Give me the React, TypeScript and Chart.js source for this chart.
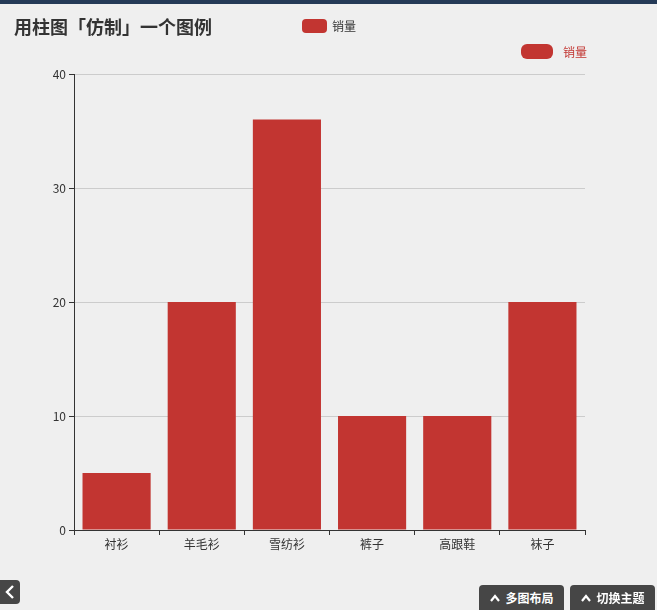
import { useEffect, useRef } from "react"
import { Chart, registerables, Plugin } from "chart.js"

Chart.register(...registerables)

// datos del gráfico
const categories = ["衬衫", "羊毛衫", "雪纺衫", "裤子", "高跟鞋", "袜子"]
const sales = [5, 20, 36, 10, 10, 20]
const seriesName = "销量"
const titleText = "用柱图「仿制」一个图例"
const yTicks = [0, 10, 20, 30, 40]

const RED = "#c23531"
const FONT = "'Microsoft YaHei', 'Noto Sans CJK SC', sans-serif"

// título y las dos leyendas dibujadas a mano
const decorPlugin: Plugin<"bar"> = {
  id: "decor",
  afterDraw(chart) {
    const ctx = chart.ctx
    ctx.save()
    ctx.textBaseline = "middle"
    ctx.textAlign = "left"

    ctx.fillStyle = "#333"
    ctx.font = `bold 18px ${FONT}`
    ctx.fillText(titleText, 14, 27)

    // leyenda normal
    ctx.fillStyle = RED
    ctx.beginPath()
    ctx.roundRect(302, 19, 25, 14, 4)
    ctx.fill()
    ctx.fillStyle = "#333"
    ctx.font = `12px ${FONT}`
    ctx.fillText(seriesName, 332, 26)

    // leyenda "falsa"
    ctx.fillStyle = RED
    ctx.beginPath()
    ctx.roundRect(521, 44, 32, 15, 6)
    ctx.fill()
    ctx.fillText(seriesName, 563, 52)

    ctx.restore()
  },
}

function Chevron({ up }: { up: boolean }) {
  return up ? (
    <svg width="12" height="10" viewBox="0 0 12 10" style={{ marginRight: 4 }}>
      <polyline points="2,8 6,3 10,8" fill="none" stroke="#fff" strokeWidth="2.2" />
    </svg>
  ) : (
    <svg width="12" height="16" viewBox="0 0 12 16">
      <polyline points="9,2 3,8 9,14" fill="none" stroke="#fff" strokeWidth="2.4" />
    </svg>
  )
}

const btnStyle: React.CSSProperties = {
  position: "absolute",
  top: 585,
  height: 25,
  background: "#464646",
  borderRadius: "4px 4px 0 0",
  color: "#fff",
  fontFamily: FONT,
  fontSize: 12,
  fontWeight: "bold",
  display: "flex",
  alignItems: "center",
  justifyContent: "center",
}

export default function App() {
  const chartRef = useRef<HTMLCanvasElement>(null)
  const chartInstance = useRef<Chart<"bar">>()

  useEffect(() => {
    document.body.style.margin = "0"
    if (!chartRef.current) return
    if (chartInstance.current) chartInstance.current.destroy()

    const ctx = chartRef.current.getContext("2d")
    chartInstance.current = new Chart(ctx!, {
      type: "bar",
      data: {
        labels: categories,
        datasets: [
          {
            label: seriesName,
            data: sales,
            backgroundColor: RED,
            barPercentage: 0.8,
            categoryPercentage: 1,
          },
        ],
      },
      options: {
        animation: false,
        responsive: true,
        maintainAspectRatio: false,
        layout: { padding: { top: 74, right: 72, left: 0, bottom: 50 } },
        plugins: {
          legend: { display: false },
          title: { display: false },
          tooltip: { enabled: false },
        },
        scales: {
          x: {
            offset: true,
            grid: {
              offset: true,
              drawOnChartArea: false,
              drawTicks: true,
              tickLength: 5,
              tickColor: "#333",
            },
            border: { color: "#333", width: 1 },
            ticks: { color: "#333", font: { size: 12, family: FONT }, padding: 2, maxRotation: 0 },
            afterFit: (s) => {
              s.height = 30
            },
          },
          y: {
            min: yTicks[0],
            max: yTicks[yTicks.length - 1],
            afterBuildTicks: (s) => {
              s.ticks = yTicks.map((v) => ({ value: v }))
            },
            grid: {
              color: "#ccc",
              tickColor: "#333",
              tickLength: 5,
            },
            border: { color: "#333", width: 1 },
            ticks: { color: "#333", font: { size: 12, family: FONT }, padding: 3 },
            afterFit: (s) => {
              s.width = 74
            },
          },
        },
      },
      plugins: [decorPlugin],
    })

    return () => {
      if (chartInstance.current) {
        chartInstance.current.destroy()
        chartInstance.current = undefined
      }
    }
  }, [])

  return (
    <div style={{ position: "relative", width: 657, height: 610, background: "#efefef", overflow: "hidden" }}>
      <canvas ref={chartRef}></canvas>
      <div style={{ position: "absolute", left: 0, top: 0, width: 657, height: 4, background: "#253a57" }} />
      <div
        style={{
          position: "absolute",
          left: 0,
          top: 580,
          width: 20,
          height: 24,
          background: "#464646",
          borderRadius: "0 4px 4px 0",
          display: "flex",
          alignItems: "center",
          justifyContent: "center",
        }}
      >
        <Chevron up={false} />
      </div>
      <div style={{ ...btnStyle, left: 479, width: 85 }}>
        <Chevron up={true} />
        多图布局
      </div>
      <div style={{ ...btnStyle, left: 570, width: 85 }}>
        <Chevron up={true} />
        切换主题
      </div>
    </div>
  )
}
